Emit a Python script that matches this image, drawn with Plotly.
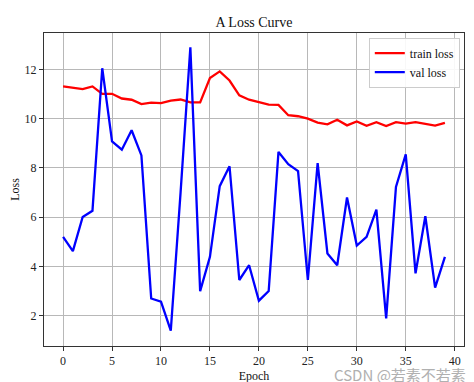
import plotly.graph_objects as go

epochs = list(range(40))
train_loss = [11.31, 11.24, 11.20, 11.31, 11.01, 11.01, 10.82, 10.77, 10.59, 10.65,
              10.63, 10.73, 10.78, 10.66, 10.66, 11.65, 11.92, 11.55, 10.95, 10.77,
              10.67, 10.57, 10.56, 10.14, 10.10, 10.00, 9.84, 9.77, 9.96, 9.73,
              9.89, 9.71, 9.86, 9.70, 9.86, 9.80, 9.86, 9.79, 9.72, 9.83]
val_loss = [5.20, 4.62, 6.01, 6.26, 12.05, 9.08, 8.74, 9.53, 8.51, 2.70,
            2.57, 1.39, 7.00, 12.90, 3.00, 4.39, 7.26, 8.07, 3.45, 4.05,
            2.61, 3.00, 8.65, 8.15, 7.87, 3.45, 8.20, 4.53, 4.05, 6.80,
            4.85, 5.20, 6.31, 1.89, 7.23, 8.55, 3.72, 6.04, 3.14, 4.39]
x_ticks = [0, 5, 10, 15, 20, 25, 30, 35, 40]
y_ticks = [2, 4, 6, 8, 10, 12]

FONT = "Liberation Serif"

fig = go.Figure()
fig.add_trace(go.Scatter(x=epochs, y=train_loss, mode="lines", name="train loss",
                         line=dict(color="#ff0000", width=2.3)))
fig.add_trace(go.Scatter(x=epochs, y=val_loss, mode="lines", name="val loss",
                         line=dict(color="#0000ff", width=2.3)))

axis_common = dict(
    showgrid=True, gridcolor="#b8b8b8", gridwidth=1,
    showline=True, linecolor="#333333", linewidth=1, mirror=True,
    ticks="outside", ticklen=4, tickcolor="#333333",
    zeroline=False, automargin=False,
    tickfont=dict(family=FONT, size=12, color="#222222"),
)

fig.update_layout(
    width=474, height=382,
    margin=dict(l=36, r=18, t=25, b=44),
    paper_bgcolor="white", plot_bgcolor="white",
    title=dict(text="A Loss Curve", x=0.519, xanchor="center", y=0.962, yanchor="middle",
               font=dict(family=FONT, size=14, color="#111111")),
    xaxis=dict(range=[-1.95, 40.95], tickvals=x_ticks,
               title=dict(text="Epoch", standoff=4, font=dict(family=FONT, size=12, color="#111111")),
               **axis_common),
    yaxis=dict(range=[0.77, 13.48], tickvals=y_ticks,
               title=dict(text="Loss", standoff=6, font=dict(family=FONT, size=12, color="#111111")),
               **axis_common),
    legend=dict(x=0.99, y=0.985, xanchor="right", yanchor="top",
                bgcolor="rgba(255,255,255,0.9)", bordercolor="#cccccc", borderwidth=1,
                font=dict(family=FONT, size=12, color="#111111"),
                itemwidth=30, tracegroupgap=0),
    showlegend=True,
)

fig.add_annotation(text="CSDN @若素不若素", xref="paper", yref="paper",
                   x=1.01, y=-0.09, xanchor="right", yanchor="middle", showarrow=False,
                   font=dict(family="Noto Sans CJK SC", size=15, color="#b0b0b0"))

fig.write_html("out.html")
